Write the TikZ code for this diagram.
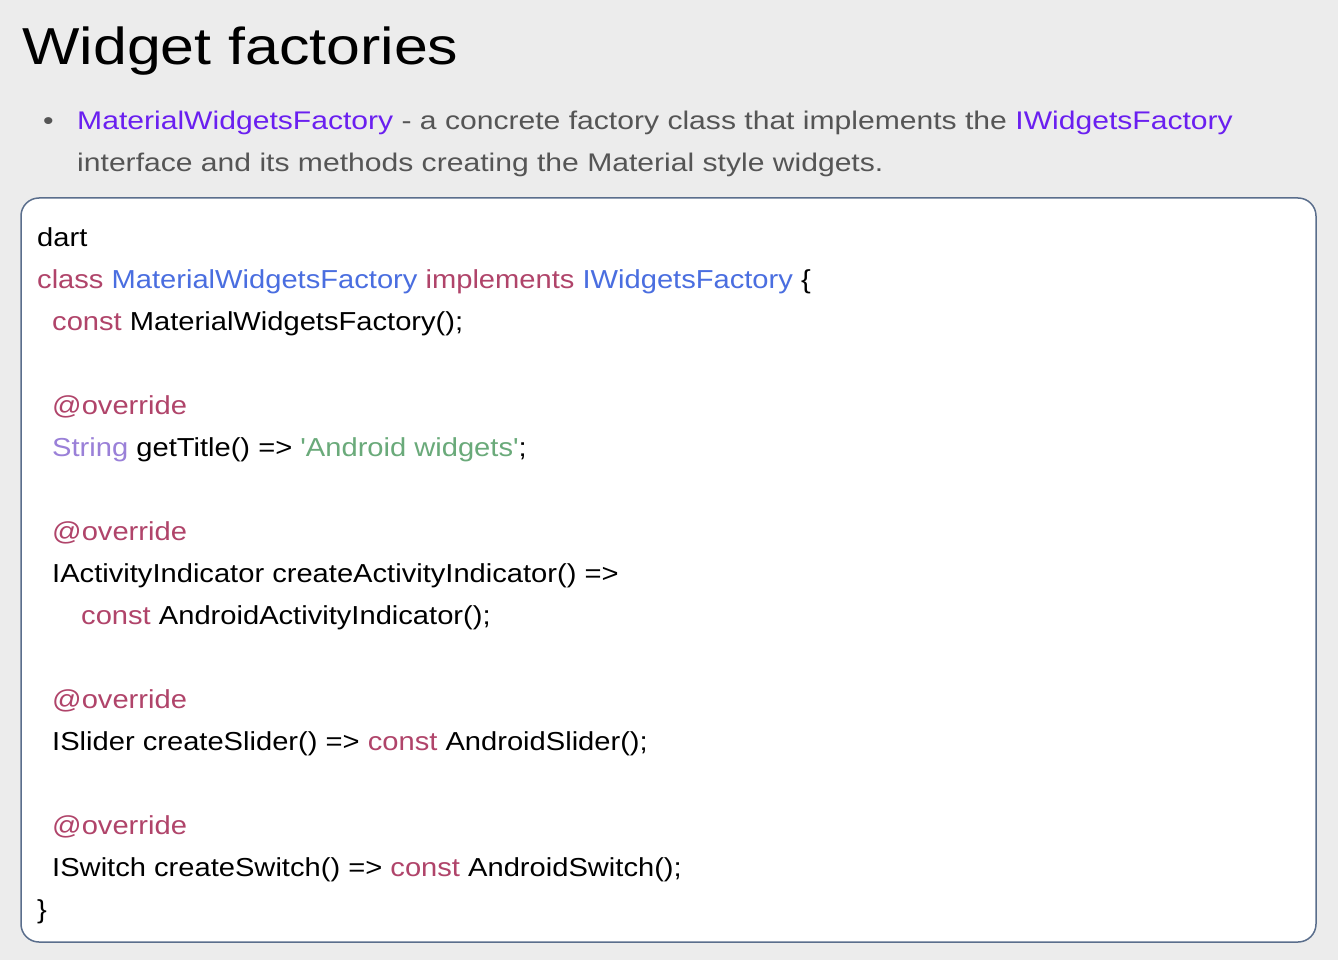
\documentclass[tikz,border=0pt]{standalone}
\usepackage{fontspec}
\setmainfont{Liberation Sans}
\usepackage{textcomp}
\definecolor{bg}{HTML}{ECECEC}
\definecolor{kw}{HTML}{B0446A}
\definecolor{ty}{HTML}{4A6EE0}
\definecolor{st}{HTML}{9A80D8}
\definecolor{gr}{HTML}{6AAA7A}
\definecolor{lk}{HTML}{6A1FF0}
\definecolor{gy}{HTML}{555555}
\definecolor{bd}{HTML}{5A6E8C}
\begin{document}
\begin{tikzpicture}[x=1pt,y=-1pt,
  code/.style={anchor=base west,inner sep=0,font=\fontsize{26}{30}\selectfont,text=black,xscale=1.12},
  prose/.style={anchor=base west,inner sep=0,font=\fontsize{25.5}{30}\selectfont,text=gy,xscale=1.18}]
\fill[bg] (0,0) rectangle (1338,960);
\useasboundingbox (0,0) rectangle (1338,960);
\node[anchor=base west,inner sep=0,font=\fontsize{52}{60}\selectfont,xscale=1.17] (title) at (22,65) {Widget factories};
\node[prose,xscale=1] (bul) at (43,130) {•};
\node[prose] (l1) at (77,130) {\textcolor{lk}{MaterialWidgetsFactory} - a concrete factory class that implements the \textcolor{lk}{IWidgetsFactory}};
\node[prose] (l2) at (77,172) {interface and its methods creating the Material style widgets.};
\draw[bd,line width=1.5pt,fill=white,rounded corners=18] (21,198) rectangle (1316,942);
\node[code] (c1) at (37,246) {dart};
\node[code] (c2) at (37,288) {\textcolor{kw}{class} \textcolor{ty}{MaterialWidgetsFactory} \textcolor{kw}{implements} \textcolor{ty}{IWidgetsFactory} \{};
\node[code] (c3) at (52,330) {\textcolor{kw}{const} MaterialWidgetsFactory();};
\node[code] (c4) at (52,414) {\textcolor{kw}{@override}};
\node[code] (c5) at (52,456) {\textcolor{st}{String} getTitle() => \textcolor{gr}{\textquotesingle Android widgets\textquotesingle};};
\node[code] (c6) at (52,540) {\textcolor{kw}{@override}};
\node[code] (c7) at (52,582) {IActivityIndicator createActivityIndicator() =>};
\node[code] (c8) at (81,624) {\textcolor{kw}{const} AndroidActivityIndicator();};
\node[code] (c9) at (52,708) {\textcolor{kw}{@override}};
\node[code] (c10) at (52,750) {ISlider createSlider() => \textcolor{kw}{const} AndroidSlider();};
\node[code] (c11) at (52,834) {\textcolor{kw}{@override}};
\node[code] (c12) at (52,876) {ISwitch createSwitch() => \textcolor{kw}{const} AndroidSwitch();};
\node[code] (c13) at (37,918) {\}};
\end{tikzpicture}
\end{document}
